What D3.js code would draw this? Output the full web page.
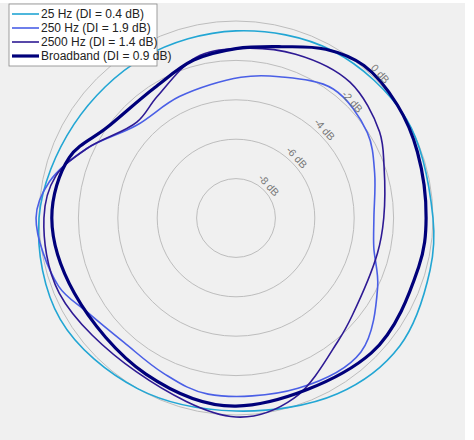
<!DOCTYPE html>
<html><head><meta charset="utf-8">
<script src="https://cdn.jsdelivr.net/npm/d3@7"></script>
<style>body{margin:0;background:#fff}svg{display:block}</style>
</head><body><svg id="c" width="474" height="440"></svg>
<script>
// [angle (deg, counter-clockwise from east), level (dB)]
const seriesNames = ["25 Hz (DI = 0.4 dB)", "250 Hz (DI = 1.9 dB)", "2500 Hz (DI = 1.4 dB)", "Broadband (DI = 0.9 dB)"];
const hz25 = [[0,0],[30,0],[60,-0.2],[90,-0.5],[120,-0.6],[150,-0.5],[180,0],[210,0.3],[240,0],[270,-0.2],[300,0.3],[322,0.55],[345,0.2]];
const hz250 = [[0,-3.0],[18,-2.6],[33,-2.05],[53,-1.8],[73,-2.5],[88,-2.85],[115,-3.2],[137,-3.1],[155,-1.65],[169,-0.35],[180,0.15],[201,-0.35],[212,-1.05],[228,-1.5],[245,-1.3],[261,-0.95],[290,-0.8],[313,-0.7],[334,-2.0],[348,-2.85]];
const hz2500 = [[0,-2.5],[19,-2.05],[31,-1.5],[50,-1.0],[70,-1.15],[90,-1.4],[104,-1.6],[123,-2.65],[136,-3.0],[155,-1.65],[167,-0.6],[180,-0.25],[203,-0.25],[237,-0.7],[270,0.1],[288,-0.4],[310,-1.9],[320,-2.3],[346,-2.6]];
const broadband = [[0,-0.35],[20,-0.2],[35,0],[50,0.1],[62,-0.3],[75,-1.0],[90,-1.4],[105,-1.7],[122,-2.2],[145,-2.0],[160,-1.0],[180,-0.65],[205,-0.95],[240,-0.85],[270,-0.45],[315,-0.3],[345,-0.4]];
const ringTicks = [-8,-6,-4,-2,0];
const ringLabels = ["-8 dB","-6 dB","-4 dB","-2 dB","0 dB"];
const seriesData = [hz25, hz250, hz2500, broadband];
const colors = ["#22a6d4","#4a5fe6","#2e1a94","#00007a"];
const widths = [1.6,1.6,1.6,3.2];

const svg = d3.select("#c");
svg.append("rect").attr("x",0).attr("y",3).attr("width",465).attr("height",437).attr("fill","#f0f0f0");
const cx = 236, cy = 218;
const r = d3.scaleLinear().domain([-10,0]).range([0,197]);
const g = svg.append("g").attr("transform",`translate(${cx},${cy})`);
ringTicks.forEach((t,i)=>{
  g.append("circle").attr("r",r(t)).attr("fill","none").attr("stroke","#bdbdbd").attr("stroke-width",1);
});
const toRad = a => (90 - a) * Math.PI/180;
const line = d3.lineRadial().angle(d=>toRad(d[0])).radius(d=>r(d[1])).curve(d3.curveCatmullRomClosed.alpha(0.5));
seriesData.forEach((s,i)=>{
  g.append("path").attr("d",line(s)).attr("fill","none").attr("stroke",colors[i]).attr("stroke-width",widths[i]);
});
ringTicks.forEach((t,i)=>{
  const a = 45*Math.PI/180, rr = r(t)+7;
  g.append("text").attr("transform",`translate(${rr*Math.cos(a)},${-rr*Math.sin(a)}) rotate(48)`)
   .attr("text-anchor","middle").attr("dy","0.35em").attr("font-family","Liberation Sans, Arial, sans-serif")
   .attr("font-size",10.5).attr("fill","#777").text(ringLabels[i]);
});
const lg = svg.append("g").attr("transform","translate(9,4)");
lg.append("rect").attr("width",148).attr("height",62).attr("fill","#fff").attr("stroke","#888").attr("stroke-width",0.8);
seriesNames.forEach((n,i)=>{
  const y = 10 + i*14;
  lg.append("line").attr("x1",3).attr("x2",30).attr("y1",y).attr("y2",y).attr("stroke",colors[i]).attr("stroke-width",widths[i]);
  lg.append("text").attr("x",32).attr("y",y).attr("dy","0.35em").attr("font-family","Liberation Sans, Arial, sans-serif")
   .attr("font-size",12).attr("fill","#222").text(n);
});
</script></body></html>
